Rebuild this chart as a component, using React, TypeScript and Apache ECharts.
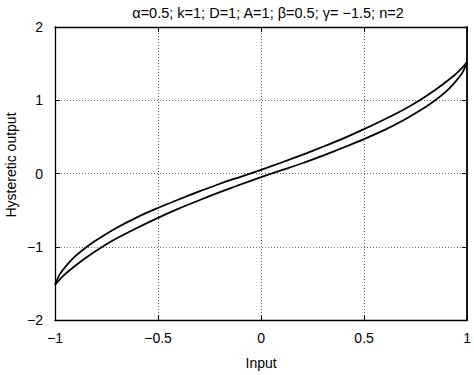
import React, { useEffect, useRef } from "react";
import * as echarts from "echarts";

const titleText = "α=0.5; k=1; D=1; A=1; β=0.5; γ= −1.5; n=2";
const xName = "Input";
const yName = "Hysteretic output";

const upperX = [-1, -0.98, -0.96, -0.93, -0.9, -0.85, -0.8, -0.7, -0.6, -0.5, -0.4, -0.3, -0.2, -0.1, 0, 0.1, 0.2, 0.3, 0.4, 0.5, 0.6, 0.7, 0.77, 0.85, 0.9, 0.95, 0.98, 1];
const upperY = [-1.52, -1.39, -1.31, -1.21, -1.125, -1.01, -0.91, -0.74, -0.595, -0.47, -0.355, -0.245, -0.14, -0.045, 0.05, 0.15, 0.255, 0.365, 0.48, 0.605, 0.74, 0.885, 1.0, 1.15, 1.255, 1.37, 1.455, 1.52];

const lowerX = [-1, -0.98, -0.95, -0.9, -0.85, -0.77, -0.7, -0.6, -0.5, -0.4, -0.3, -0.2, -0.1, 0, 0.1, 0.2, 0.3, 0.4, 0.5, 0.6, 0.7, 0.8, 0.85, 0.9, 0.93, 0.96, 0.98, 1];
const lowerY = [-1.52, -1.455, -1.37, -1.255, -1.15, -1.0, -0.885, -0.74, -0.605, -0.48, -0.365, -0.255, -0.15, -0.05, 0.045, 0.14, 0.245, 0.355, 0.47, 0.595, 0.74, 0.91, 1.01, 1.125, 1.21, 1.31, 1.39, 1.52];

const FONT = "'Liberation Sans', Arial, sans-serif";
const fmt = (v: number) => String(v).replace("-", "\u2212");

export default function App() {
  const ref = useRef<HTMLDivElement>(null);
  useEffect(() => {
    if (!ref.current) return;
    const chart = echarts.init(ref.current, null, { renderer: "svg" });
    const tickCommon = { show: true, inside: true, length: 5, lineStyle: { color: "#000", width: 1 } };
    const lineCommon = { show: true, lineStyle: { color: "#000", width: 1.3 } };
    const split = { show: true, lineStyle: { color: "#444", type: [1, 2], width: 0.8 } };
    chart.setOption({
      animation: false,
      backgroundColor: "#fff",
      title: {
        text: titleText,
        left: 263,
        top: 0,
        textAlign: "center",
        textStyle: { fontFamily: FONT, fontSize: 14.5, fontWeight: "normal", color: "#000" },
      },
      grid: { left: 55, right: 2, top: 27, bottom: 48, containLabel: false },
      xAxis: [
        {
          type: "value", min: -1, max: 1, interval: 0.5, position: "bottom",
          axisLine: { ...lineCommon, onZero: false }, axisTick: tickCommon, splitLine: split,
          axisLabel: { formatter: fmt, fontFamily: FONT, fontSize: 14, color: "#000", margin: 11 },
          name: xName, nameLocation: "middle", nameGap: 36,
          nameTextStyle: { fontFamily: FONT, fontSize: 14, color: "#000" },
        },
        {
          type: "value", min: -1, max: 1, interval: 0.5, position: "top",
          axisLine: { ...lineCommon, onZero: false }, axisTick: tickCommon, splitLine: { show: false },
          axisLabel: { show: false },
        },
      ],
      yAxis: [
        {
          type: "value", min: -2, max: 2, interval: 1, position: "left",
          axisLine: { ...lineCommon, onZero: false }, axisTick: tickCommon, splitLine: split,
          axisLabel: { formatter: fmt, fontFamily: FONT, fontSize: 14, color: "#000", margin: 12 },
        },
        {
          type: "value", min: -2, max: 2, interval: 1, position: "right",
          axisLine: { show: true, lineStyle: { color: "#000", width: 1.8 }, onZero: false }, axisTick: tickCommon, splitLine: { show: false },
          axisLabel: { show: false },
        },
      ],
      graphic: [
        {
          type: "text",
          x: 11,
          y: 165,
          rotation: Math.PI / 2,
          style: {
            text: yName,
            fontFamily: FONT,
            fontSize: 14,
            fill: "#000",
            textAlign: "center",
            textVerticalAlign: "middle",
          },
        },
      ],
      series: [
        {
          type: "line",
          data: upperX.map((x, i) => [x, upperY[i]]),
          smooth: 0.3,
          showSymbol: false,
          lineStyle: { color: "#000", width: 1.8 },
        },
        {
          type: "line",
          data: lowerX.map((x, i) => [x, lowerY[i]]),
          smooth: 0.3,
          showSymbol: false,
          lineStyle: { color: "#000", width: 1.8 },
        },
      ],
    });
    return () => chart.dispose();
  }, []);
  return (
    <div
      ref={ref}
      style={{ position: "absolute", left: 0, top: 0, width: 474, height: 375 }}
    />
  );
}
